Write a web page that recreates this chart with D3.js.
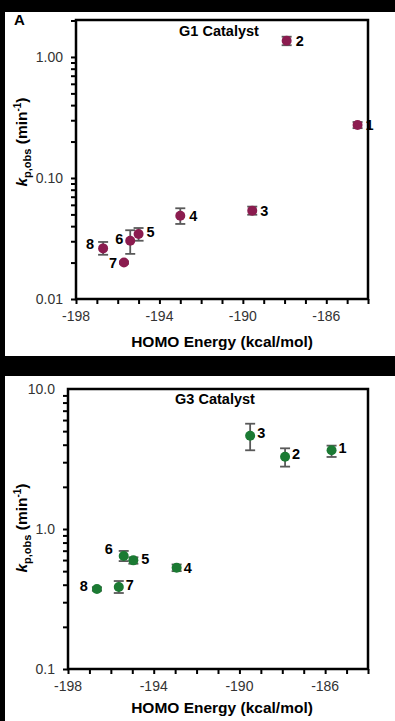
<!DOCTYPE html>
<html>
<head>
<meta charset="utf-8">
<script src="https://cdn.jsdelivr.net/npm/d3@7"></script>
<style>
  body { margin: 0; background: #000; }
  svg { display: block; font-family: "Liberation Sans", Arial, sans-serif; }
</style>
</head>
<body>
<svg width="395" height="721"></svg>
<script>
// compound numbers
const compounds = ["1", "2", "3", "4", "5", "6", "7", "8"];

// G1 catalyst
const homoG1 = [-184.5, -187.9, -189.55, -193.0, -195.0, -195.4, -195.7, -196.7];
const kG1 = [0.274, 1.36, 0.0537, 0.0488, 0.0345, 0.0303, 0.0200, 0.0262];
const kG1lo = [0.258, 1.25, 0.0497, 0.0417, 0.0303, 0.0236, 0.0196, 0.0232];
const kG1hi = [0.290, 1.47, 0.0580, 0.0562, 0.0386, 0.0370, 0.0204, 0.0296];

// G3 catalyst
const homoG3 = [-185.7, -187.87, -189.5, -192.93, -194.95, -195.4, -195.63, -196.65];
const kG3 = [3.65, 3.28, 4.64, 0.529, 0.597, 0.641, 0.385, 0.373];
const kG3lo = [3.27, 2.79, 3.65, 0.500, 0.565, 0.590, 0.349, 0.362];
const kG3hi = [3.94, 3.77, 5.65, 0.558, 0.628, 0.697, 0.425, 0.384];

const xTicksLabeled = [-198, -194, -190, -186];
const yTicksG1 = [0.01, 0.1, 1];
const yTicksG3 = [0.1, 1, 10];

const svg = d3.select("svg");

svg.append("rect").attr("width", 395).attr("height", 721).attr("fill", "#000");

// label placement per point: [dx, dy, anchor]
const labPosG1 = [[8, 0, "start"], [9, 0, "start"], [8, 0, "start"], [9, 0, "start"],
  [8, -2, "start"], [-7, -2, "end"], [-7, 0, "end"], [-9, -4, "end"]];
const labPosG3 = [[7, -2, "start"], [7, -3, "start"], [7, -3, "start"], [7, 0, "start"],
  [8, -1, "start"], [-11, -7, "end"], [7, -2, "start"], [-9, -3, "end"]];

function panel(opt) {
  const g = svg.append("g");
  g.append("rect")
    .attr("x", opt.box[0]).attr("y", opt.box[1])
    .attr("width", opt.box[2]).attr("height", opt.box[3])
    .attr("fill", "#fff");

  const x = d3.scaleLinear().domain([-198, -184]).range([opt.left, opt.right]);
  const y = d3.scaleLog().domain(opt.yDomain).range([opt.bottom, opt.top]);

  // minor ticks on log axis
  const minor = [];
  const d0 = Math.log10(opt.yDomain[0]), d1 = Math.ceil(Math.log10(opt.yDomain[1]));
  for (let e = d0; e < d1; e++) {
    for (let m = 1; m < 10; m++) {
      const v = m * Math.pow(10, e);
      if (v >= opt.yDomain[0] && v <= opt.yDomain[1] * 1.001) minor.push(v);
    }
  }

  const yAxis = g.append("g")
    .attr("transform", `translate(${opt.left},0)`)
    .call(d3.axisLeft(y).tickValues(minor).tickSize(5).tickFormat(""));
  yAxis.select(".domain").remove();
  yAxis.selectAll("line").attr("stroke", "#000").attr("stroke-width", 2);

  g.selectAll(".ylab")
    .data(opt.yTicks)
    .enter().append("text")
    .attr("x", opt.left - 13)
    .attr("y", d => y(d) + 5)
    .attr("text-anchor", "end")
    .attr("font-size", 14)
    .attr("fill", "#333")
    .text(d => d3.format(opt.yFmt)(d));

  const xAxis = g.append("g")
    .attr("transform", `translate(0,${opt.bottom})`)
    .call(d3.axisBottom(x).ticks(14).tickSize(5).tickFormat(""));
  xAxis.select(".domain").remove();
  xAxis.selectAll("line").attr("stroke", "#000").attr("stroke-width", 2);

  g.selectAll(".xlab")
    .data(xTicksLabeled)
    .enter().append("text")
    .attr("x", d => x(d))
    .attr("y", opt.bottom + 22)
    .attr("text-anchor", "middle")
    .attr("font-size", 14)
    .attr("fill", "#333")
    .text(d => d3.format("")(d).replace("\u2212", "-"));

  // frame
  g.append("path")
    .attr("d", `M${opt.left},${opt.top}H${opt.right}V${opt.bottom}H${opt.left}Z`)
    .attr("fill", "none")
    .attr("stroke", "#000")
    .attr("stroke-width", 2.5);

  // error bars
  const eb = g.append("g").attr("stroke", "#595959").attr("stroke-width", 1.8);
  opt.xs.forEach((xv, i) => {
    const cx = x(xv), ylo = y(opt.lo[i]), yhi = y(opt.hi[i]);
    eb.append("line").attr("x1", cx).attr("x2", cx).attr("y1", ylo).attr("y2", yhi);
    eb.append("line").attr("x1", cx - 5).attr("x2", cx + 5).attr("y1", ylo).attr("y2", ylo);
    eb.append("line").attr("x1", cx - 5).attr("x2", cx + 5).attr("y1", yhi).attr("y2", yhi);
  });

  g.selectAll(".dot")
    .data(opt.ys)
    .enter().append("circle")
    .attr("cx", (d, i) => x(opt.xs[i]))
    .attr("cy", d => y(d))
    .attr("r", 5)
    .attr("fill", opt.color);

  g.selectAll(".plab")
    .data(compounds)
    .enter().append("text")
    .attr("x", (d, i) => x(opt.xs[i]) + opt.lab[i][0])
    .attr("y", (d, i) => y(opt.ys[i]) + opt.lab[i][1] + 5)
    .attr("text-anchor", (d, i) => opt.lab[i][2])
    .attr("font-size", 14.5)
    .attr("font-weight", "bold")
    .attr("fill", "#000")
    .text(d => d);

  g.append("text")
    .attr("x", (opt.left + opt.right) / 2 - 3)
    .attr("y", opt.top + opt.titleDy)
    .attr("text-anchor", "middle")
    .attr("font-size", 14.5)
    .attr("font-weight", "bold")
    .text(opt.title);

  g.append("text")
    .attr("x", 222)
    .attr("y", opt.xLabY)
    .attr("text-anchor", "middle")
    .attr("font-size", 15.5)
    .attr("font-weight", "bold")
    .text("HOMO Energy (kcal/mol)");

  const yl = g.append("text")
    .attr("transform", `translate(27,${opt.yLabC}) rotate(-90)`)
    .attr("text-anchor", "middle")
    .attr("font-size", 15.5)
    .attr("font-weight", "bold");
  yl.append("tspan").attr("font-style", "italic").text("k");
  yl.append("tspan").attr("font-size", 11).attr("dy", 4).text("p,obs");
  yl.append("tspan").attr("dy", -4).text(" (min");
  yl.append("tspan").attr("font-size", 10).attr("dy", -6).text("-1");
  yl.append("tspan").attr("dy", 6).text(")");
  return g;
}

panel({
  box: [5, 12, 390, 344],
  left: 76, right: 368, top: 20, bottom: 299,
  yDomain: [0.01, 2.02], yTicks: yTicksG1, yFmt: ".2f",
  xs: homoG1, ys: kG1, lo: kG1lo, hi: kG1hi, lab: labPosG1,
  color: "#8b1c4f", title: "G1 Catalyst", titleDy: 16,
  xLabY: 347, yLabC: 142
});

panel({
  box: [5, 376, 390, 345],
  left: 68, right: 368, top: 389, bottom: 669,
  yDomain: [0.1, 10], yTicks: yTicksG3, yFmt: ".1f",
  xs: homoG3, ys: kG3, lo: kG3lo, hi: kG3hi, lab: labPosG3,
  color: "#1b7a33", title: "G3 Catalyst", titleDy: 15,
  xLabY: 713, yLabC: 528
});

svg.append("text")
  .attr("x", 14).attr("y", 25)
  .attr("font-size", 15)
  .attr("font-weight", "bold")
  .text("A");
</script>
</body>
</html>
